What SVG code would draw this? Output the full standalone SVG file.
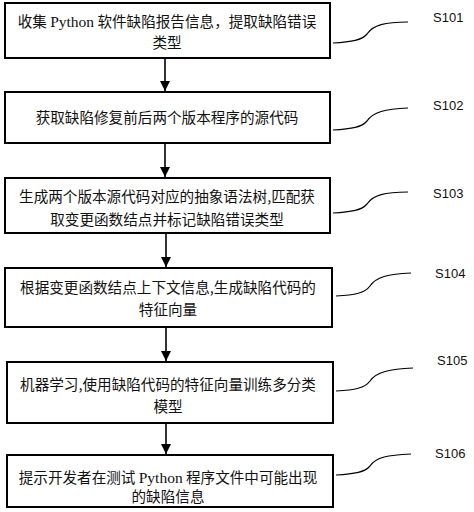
<svg xmlns="http://www.w3.org/2000/svg" width="474" height="512" viewBox="0 0 474 512">
<style>
.box{fill:#fff;stroke:#000;stroke-width:2}
.t{font-family:"Noto Sans CJK SC","Noto Sans",sans-serif;font-size:14.6px;fill:#111;text-anchor:middle}
.py{font-family:"Liberation Serif",serif;font-size:15.5px}
.lbl{font-family:"Liberation Sans",sans-serif;font-size:13px;fill:#111}
.c{fill:none;stroke:#000;stroke-width:1.2}
.a{fill:none;stroke:#000;stroke-width:1.6}
</style>
<defs>
<marker id="ah" viewBox="0 0 10 10" refX="10" refY="5" markerWidth="10" markerHeight="10" markerUnits="userSpaceOnUse" orient="auto">
<path d="M0,0 L10,5 L0,10 z" fill="#000"/>
</marker>
</defs>
<rect width="474" height="512" fill="#fff"/>
<g id="connectors">
<line class="a" x1="165" y1="58" x2="165" y2="91" marker-end="url(#ah)"/>
<line class="a" x1="165" y1="143" x2="165" y2="177" marker-end="url(#ah)"/>
<line class="a" x1="166" y1="233" x2="166" y2="267" marker-end="url(#ah)"/>
<line class="a" x1="166" y1="327" x2="166" y2="361" marker-end="url(#ah)"/>
<line class="a" x1="166" y1="423" x2="166" y2="454" marker-end="url(#ah)"/>
<path class="c" d="M333,43 C352,42 362,40 367,34 C373,25 385,22 408,22"/>
<path class="c" d="M333,130 C352,129 362,127 367,121 C373,112 385,109 408,108"/>
<path class="c" d="M333,213 C352,212 362,210 367,204 C373,195 385,192 408,192"/>
<path class="c" d="M336,296 C355,295 365,293 370,286 C376,277 388,274 411,273"/>
<path class="c" d="M336,391 C355,390 365,388 370,381 C376,372 390,369 413,368"/>
<path class="c" d="M336,475 C355,474 365,472 370,466 C376,457 388,455 411,454"/>
</g>
<g id="s101">
<rect class="box" x="5" y="3" width="325" height="55"/>
<text class="t" x="167" y="27">收集 <tspan class="py">Python</tspan> 软件缺陷报告信息，提取缺陷错误</text>
<text class="t" x="167" y="48">类型</text>
<text class="lbl" x="433" y="22">S101</text>
</g>
<g id="s102">
<rect class="box" x="5" y="92" width="325" height="51"/>
<text class="t" x="167" y="123">获取缺陷修复前后两个版本程序的源代码</text>
<text class="lbl" x="433" y="110">S102</text>
</g>
<g id="s103">
<rect class="box" x="5" y="178" width="325" height="55"/>
<text class="t" x="167" y="202">生成两个版本源代码对应的抽象语法树,匹配获</text>
<text class="t" x="167" y="225">取变更函数结点并标记缺陷错误类型</text>
<text class="lbl" x="433" y="198">S103</text>
</g>
<g id="s104">
<rect class="box" x="5" y="268" width="327" height="59"/>
<text class="t" x="168" y="293">根据变更函数结点上下文信息,生成缺陷代码的</text>
<text class="t" x="168" y="315">特征向量</text>
<text class="lbl" x="435" y="278">S104</text>
</g>
<g id="s105">
<rect class="box" x="7" y="362" width="326" height="61"/>
<text class="t" x="168" y="390">机器学习,使用缺陷代码的特征向量训练多分类</text>
<text class="t" x="168" y="412">模型</text>
<text class="lbl" x="437" y="365">S105</text>
</g>
<g id="s106">
<rect class="box" x="7" y="455" width="326" height="52"/>
<text class="t" x="168" y="483">提示开发者在测试 <tspan class="py">Python</tspan> 程序文件中可能出现</text>
<text class="t" x="168" y="502">的缺陷信息</text>
<text class="lbl" x="435" y="458">S106</text>
</g>
</svg>
